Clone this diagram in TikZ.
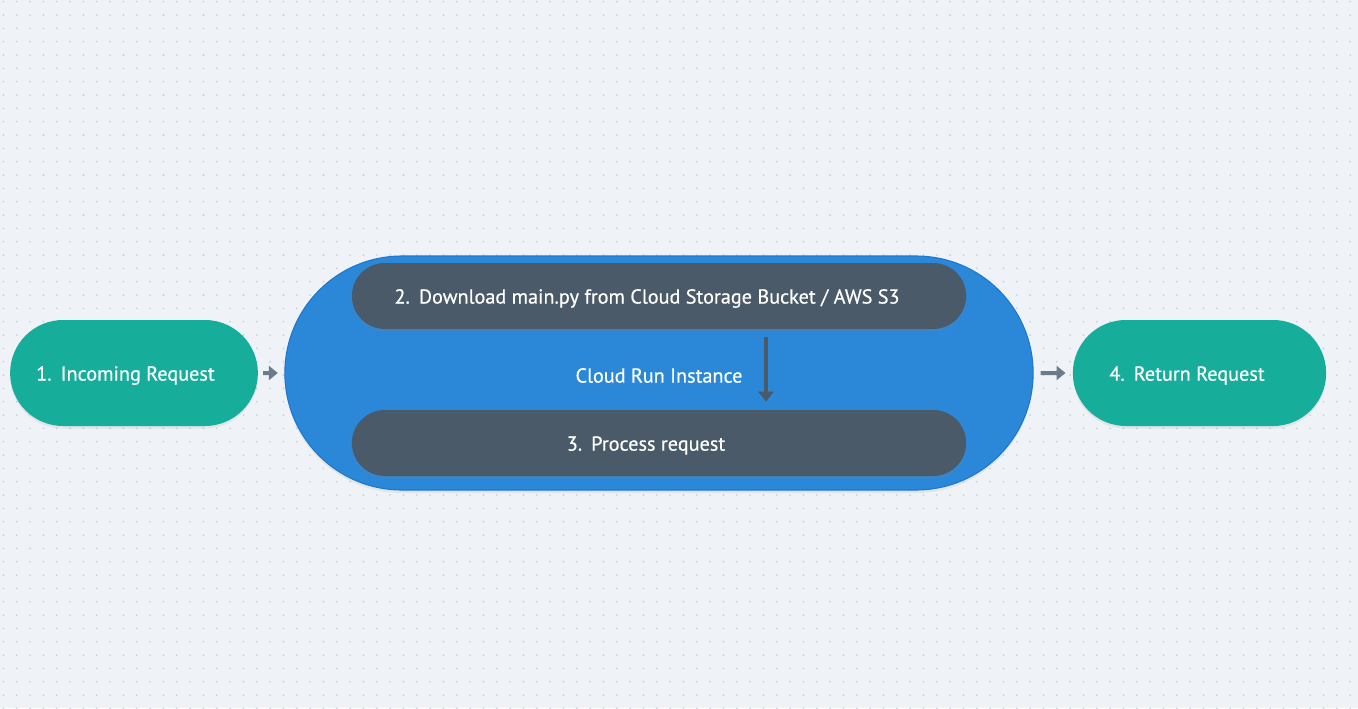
\documentclass[tikz,border=0pt]{standalone}
\usepackage{fontspec}
\setmainfont{PT Sans}
\newfontfamily\stepfont[FakeBold=0.6]{PT Sans}
\usetikzlibrary{positioning, calc, arrows.meta, shadows, shapes.misc}

\definecolor{bgc}{HTML}{EFF3F7}
\definecolor{dotc}{HTML}{C5CCD6}
\definecolor{tealc}{HTML}{17AD9B}
\definecolor{bluec}{HTML}{2B88D9}
\definecolor{blueedge}{HTML}{1E76CF}
\definecolor{slatec}{HTML}{4A5A68}
\definecolor{arrowc}{HTML}{6C7B8B}

\begin{document}
\begin{tikzpicture}
\tikzset{endpill/.style={
    rounded rectangle, fill=tealc, text=white, minimum width=5.19cm, minimum height=2.12cm,
    drop shadow={opacity=0.12, shadow xshift=0cm, shadow yshift=-0.05cm}},
    steppill/.style={
    rounded rectangle, fill=slatec, minimum width=12.52cm, minimum height=1.32cm,
    drop shadow={opacity=0.18, shadow xshift=0cm, shadow yshift=-0.05cm}},
    instpill/.style={
    rounded rectangle, fill=bluec, draw=blueedge, line width=0.6pt, minimum width=15.2cm, minimum height=4.68cm,
    drop shadow={opacity=0.12, shadow xshift=0cm, shadow yshift=-0.06cm}},
    steptext/.style={text=white, font=\stepfont\fontsize{11.5}{14}\selectfont, yshift=-0.05cm},
    flow/.style={arrowc, line width=0.08cm, -{Triangle[width=0.28cm, length=0.18cm]}},
    down/.style={slatec, line width=0.08cm, -{Triangle[width=0.3cm, length=0.2cm]}}
}

    % page and dotted grid
    \fill[bgc] (0,0) rectangle (27.16,14.16);
    \useasboundingbox (0,0) rectangle (27.16,14.16);
    \foreach \i in {0,...,101}{
        \foreach \j in {0,...,53}{
            \fill[dotc] ({0.067+\i*0.2667}, {14.127-\j*0.2667}) circle (0.018);
        }
    }

    \coordinate (in_c) at (2.68, 6.70);
    \coordinate (run_c) at (13.18, 6.70);
    \coordinate (out_c) at (23.99, 6.70);
    \coordinate (dl_c) at ($(run_c) + (0,1.54)$);
    \coordinate (proc_c) at ($(run_c) + (0,-1.40)$);

    \node[endpill, label={[steptext, xshift=-0.17cm]center:1.\hspace{0.45em}Incoming Request}] (incoming) at (in_c) {};
    \node[instpill] (instance) at (run_c) {};
    \node[steptext] (runlabel) at (run_c) {Cloud Run Instance};
    \node[steppill, label={[steptext, xshift=-0.24cm]center:2.\hspace{0.45em}Download main.py from Cloud Storage Bucket / AWS S3}] (download) at (dl_c) {};
    \node[steppill, label={[steptext, xshift=-0.26cm]center:3.\hspace{0.45em}Process request}] (process) at (proc_c) {};
    \node[endpill, minimum width=5.3cm, label={[steptext, xshift=-0.25cm]center:4.\hspace{0.45em}Return Request}] (returned) at (out_c) {};

    % connectors
    \draw[flow, shorten <=0.1cm, shorten >=0.13cm] (incoming) -- (instance);
    \draw[flow, shorten <=0.14cm, shorten >=0.14cm] (instance) -- (returned);
    \coordinate (dl_out) at ($(download.south) + (2.14,0)$);
    \draw[down, shorten <=0.16cm, shorten >=0.16cm] (dl_out) -- (dl_out |- process.north);

\end{tikzpicture}
\end{document}
